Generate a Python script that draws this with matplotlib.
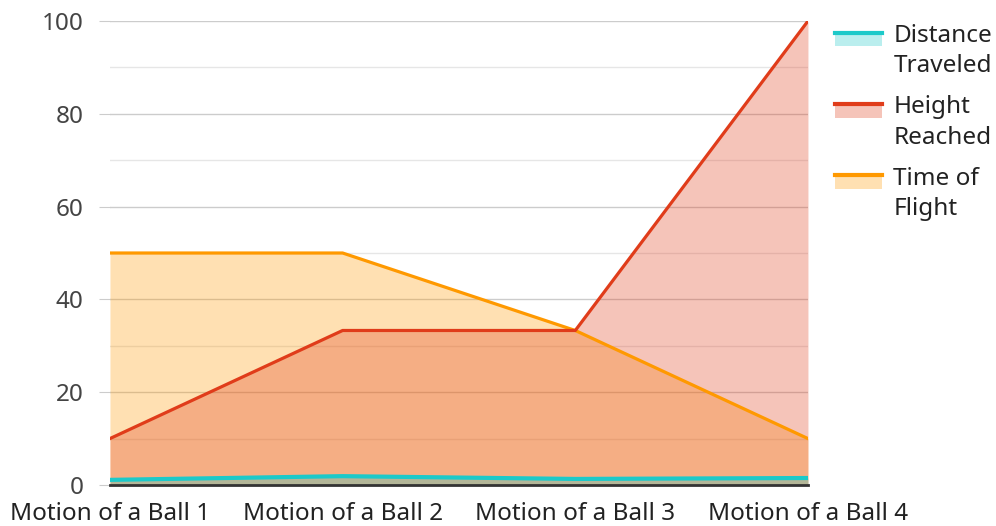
import numpy as np
import matplotlib
matplotlib.use("Agg")
import matplotlib.pyplot as plt
from matplotlib.legend_handler import HandlerBase
from matplotlib.patches import Rectangle
from matplotlib.lines import Line2D

plt.rcParams['font.family'] = ['Noto Sans', 'DejaVu Sans']

# data
categories = ['Motion of a Ball 1', 'Motion of a Ball 2', 'Motion of a Ball 3', 'Motion of a Ball 4']
distance = [1.1, 1.9, 1.3, 1.5]
height = [10, 33.3, 33.3, 100]
time_of_flight = [50, 50, 33.3, 10]
series_names = ['Distance\nTraveled', 'Height\nReached', 'Time of\nFlight']
colors = ['#1cc9c9', '#e03c1a', '#ff9900']

FS = 17.5


class AreaHandler(HandlerBase):
    # filled box with the line along its top edge, next to the first text line
    def __init__(self, color):
        super().__init__()
        self.color = color

    def create_artists(self, legend, orig_handle, xdescent, ydescent,
                       width, height, fontsize, trans):
        y0 = height / 2 + 0.22 * fontsize
        h = 0.55 * fontsize
        rect = Rectangle((-xdescent, y0), width, h,
                         facecolor=self.color, alpha=0.3, edgecolor='none', transform=trans)
        line = Line2D([-xdescent, -xdescent + width], [y0 + h, y0 + h],
                      color=self.color, lw=3, transform=trans)
        return [rect, line]


fig = plt.figure(figsize=(9.96, 5.26), dpi=100)
ax = fig.add_axes([0.1104, 0.078, 0.7008, 0.882])

x = np.arange(len(categories))

# fills first, then lines
ax.fill_between(x, 0, time_of_flight, color=colors[2], alpha=0.3, lw=0, zorder=2)
ax.fill_between(x, 0, height, color=colors[1], alpha=0.3, lw=0, zorder=2)
ax.fill_between(x, 0, distance, color=colors[0], alpha=0.3, lw=0, zorder=2)
ax.plot(x, time_of_flight, color=colors[2], lw=2.3, zorder=3)
ax.plot(x, height, color=colors[1], lw=2.3, zorder=3)
ax.plot(x, distance, color=colors[0], lw=3, zorder=4)

ax.set_xlim(0, 3)
ax.set_ylim(0, 100)
ax.set_yticks(np.arange(0, 101, 20))
ax.set_yticks(np.arange(10, 100, 20), minor=True)
ax.grid(True, which='major', axis='y', color='#cccccc', lw=1, zorder=1)
ax.grid(True, which='minor', axis='y', color='#e6e6e6', lw=1, zorder=1)
ax.set_xticks(x)
ax.set_xticklabels(categories)
ax.tick_params(axis='x', length=0, pad=12.5, labelsize=FS, labelcolor='#222222')
ax.tick_params(axis='y', which='major', length=8, color='#cccccc', pad=11,
               labelsize=FS, labelcolor='#444444')
ax.tick_params(axis='y', which='minor', length=0)
for s in ['top', 'right', 'left']:
    ax.spines[s].set_visible(False)
ax.spines['bottom'].set_color('#333333')
ax.spines['bottom'].set_linewidth(2)
ax.spines['bottom'].set_zorder(5)

handles = [Rectangle((0, 0), 1, 1) for _ in colors]
leg = ax.legend(handles, series_names,
                handler_map={h: AreaHandler(c) for h, c in zip(handles, colors)},
                loc='upper left', bbox_to_anchor=(1.0387, 0.993), frameon=False,
                borderaxespad=0, borderpad=0,
                fontsize=FS, handlelength=1.95, handleheight=0.7, handletextpad=0.45,
                labelspacing=0.7, labelcolor='#222222')
for t in leg.get_texts():
    t.set_linespacing(1.34)

fig.savefig('out.png', dpi=100)
